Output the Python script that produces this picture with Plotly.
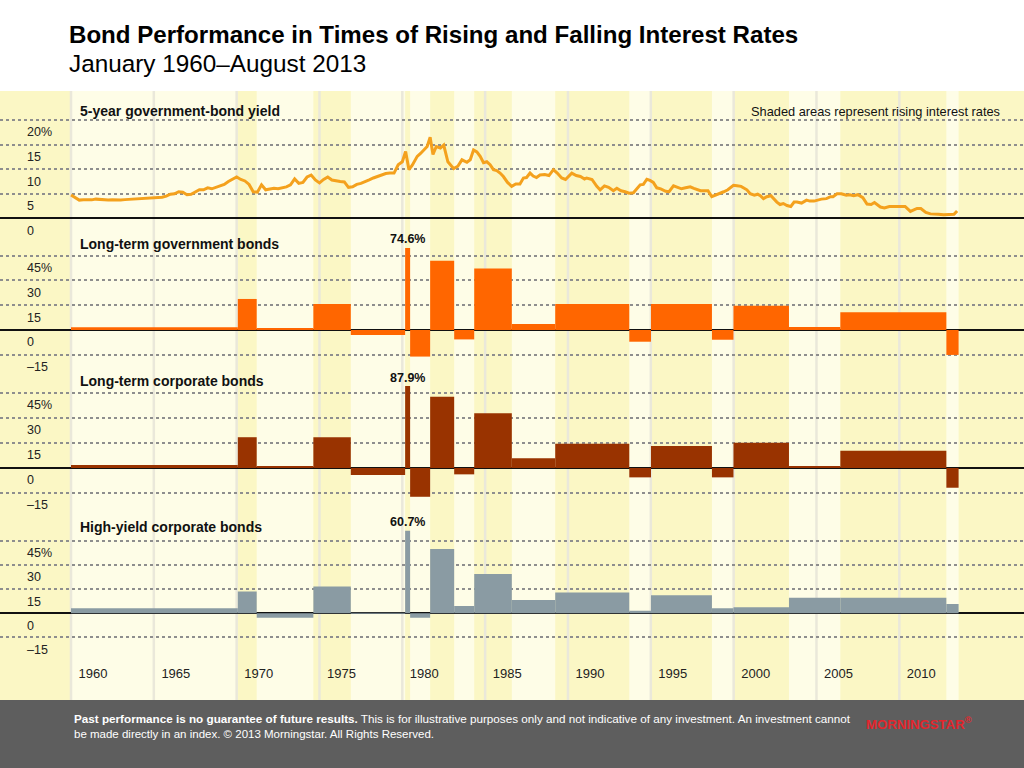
import plotly.graph_objects as go

# ---------------- data ----------------
# period boundaries (decimal years) of rising / falling rate cycles
period_edges = [1960.0, 1970.07, 1971.21, 1974.63, 1976.89, 1980.17, 1980.47, 1981.68,
                1983.13, 1984.34, 1986.61, 1989.23, 1993.70, 1995.01, 1998.69, 1999.99,
                2003.34, 2006.44, 2012.84, 2013.58]
rising_rates = [True, False, True, False, True, False, True, False, True, False,
                True, False, True, False, True, False, True, False, True]

gov_returns = [1.6, 18.8, 1.0, 15.7, -3.0, 74.6, -16.1, 42.0, -5.7, 37.2,
               3.6, 15.7, -7.1, 15.7, -5.9, 14.7, 1.8, 10.7, -15.1]
corp_returns = [1.8, 18.4, 1.0, 18.4, -4.2, 87.9, -17.2, 42.6, -3.8, 32.7,
                5.8, 14.5, -5.6, 13.2, -5.6, 15.1, 1.2, 10.3, -11.8]
hy_returns = [3.1, 13.5, -2.7, 16.6, 0.3, 60.7, -2.7, 40.0, 4.6, 24.4,
              8.3, 12.9, 1.6, 11.2, 3.1, 3.7, 9.7, 9.6, 5.8]

yield_dates = [
    1960.0, 1960.25, 1960.5, 1960.75, 1961.0, 1961.25, 1961.5, 1961.75,
    1962.0, 1962.25, 1962.5, 1962.75, 1963.0, 1963.25, 1963.5, 1963.75,
    1964.0, 1964.25, 1964.5, 1964.75, 1965.0, 1965.25, 1965.5, 1965.75,
    1966.0, 1966.25, 1966.5, 1966.75, 1967.0, 1967.25, 1967.5, 1967.75,
    1968.0, 1968.25, 1968.5, 1968.75, 1969.0, 1969.25, 1969.5, 1969.75,
    1970.0, 1970.25, 1970.5, 1970.75, 1971.0, 1971.25, 1971.5, 1971.75,
    1972.0, 1972.25, 1972.5, 1972.75, 1973.0, 1973.25, 1973.5, 1973.75,
    1974.0, 1974.25, 1974.5, 1974.75, 1975.0, 1975.25, 1975.5, 1975.75,
    1976.0, 1976.25, 1976.5, 1976.75, 1977.0, 1977.25, 1977.5, 1977.75,
    1978.0, 1978.25, 1978.5, 1978.75, 1979.0, 1979.25, 1979.5, 1979.75,
    1980.0, 1980.2, 1980.4, 1980.6, 1980.9, 1981.1, 1981.3, 1981.5, 1981.68, 1981.85,
    1982.05, 1982.3, 1982.5, 1982.75, 1983.1, 1983.35, 1983.6, 1983.9,
    1984.1, 1984.3, 1984.5, 1984.7, 1984.9, 1985.1, 1985.3, 1985.5, 1985.7, 1985.9,
    1986.1, 1986.35, 1986.6, 1986.85, 1987.1, 1987.31, 1987.5, 1987.71, 1987.9,
    1988.1, 1988.31, 1988.6, 1988.85, 1989.12, 1989.35, 1989.62, 1989.85,
    1990.23, 1990.5, 1990.75, 1991.0, 1991.13, 1991.45, 1991.74, 1991.94,
    1992.2, 1992.45, 1992.74, 1992.95, 1993.2, 1993.45, 1993.69, 1993.95,
    1994.15, 1994.36, 1994.55, 1994.76, 1994.95, 1995.15, 1995.36, 1995.6, 1995.9,
    1996.1, 1996.37, 1996.6, 1996.85, 1997.1, 1997.38, 1997.6, 1997.85,
    1998.0, 1998.2, 1998.45, 1998.68, 1998.85, 1999.19, 1999.4, 1999.65, 1999.99,
    2000.2, 2000.45, 2000.8, 2001.0, 2001.25, 2001.45, 2001.61, 2001.8,
    2002.0, 2002.25, 2002.61, 2002.8, 2003.0, 2003.22, 2003.45, 2003.65, 2003.82,
    2004.1, 2004.4, 2004.6, 2004.85, 2005.03, 2005.3, 2005.6, 2005.85,
    2006.0, 2006.24, 2006.5, 2006.8, 2007.0, 2007.25, 2007.5, 2007.8,
    2008.05, 2008.3, 2008.5, 2008.86, 2009.1, 2009.4, 2009.66, 2009.9,
    2010.1, 2010.35, 2010.67, 2010.9, 2011.07, 2011.3, 2011.6, 2011.88,
    2012.1, 2012.35, 2012.68, 2012.9, 2013.1, 2013.3, 2013.49]
yield_values = [
    4.75, 4.2, 3.7, 3.75, 3.7, 3.75, 3.9, 3.8,
    3.85, 3.7, 3.75, 3.65, 3.7, 3.8, 3.85, 3.95,
    4.0, 4.05, 4.0, 4.05, 4.1, 4.15, 4.3, 4.5,
    4.9, 5.0, 5.4, 5.3, 4.8, 4.9, 5.4, 5.8,
    5.8, 6.2, 6.0, 6.3, 6.6, 6.9, 7.5, 7.9,
    8.4, 7.9, 7.6, 6.9, 5.4, 5.3, 6.8, 5.8,
    5.9, 6.1, 6.0, 6.2, 6.4, 6.8, 8.0, 7.1,
    7.3, 8.4, 8.8, 7.8, 7.2, 7.9, 8.4, 7.8,
    7.6, 7.5, 7.4, 6.3, 6.4, 6.9, 7.1, 7.4,
    7.8, 8.2, 8.5, 8.8, 9.1, 9.2, 9.2, 10.9,
    11.5, 13.6, 9.9, 10.8, 12.6, 13.2, 14.0, 14.6, 16.5, 13.0,
    14.6, 14.3, 14.9, 11.5, 10.1, 10.6, 11.9, 11.4,
    11.9, 13.9, 13.5, 12.6, 11.3, 11.5, 10.9, 9.9, 9.7, 9.2,
    8.5, 7.3, 6.5, 7.0, 7.0, 8.2, 8.3, 9.2, 8.6,
    8.3, 8.8, 8.9, 8.7, 9.9, 9.2, 8.2, 7.9,
    9.2, 8.7, 8.5, 8.0, 8.2, 7.9, 6.5, 5.8,
    6.6, 6.3, 5.6, 6.1, 5.6, 5.4, 5.1, 5.2,
    5.9, 6.8, 6.9, 7.95, 7.7, 7.3, 6.2, 6.0, 5.5,
    5.4, 6.6, 6.3, 6.0, 6.2, 6.4, 6.1, 5.8,
    5.6, 5.6, 5.6, 4.4, 4.6, 5.0, 5.4, 5.8, 6.7,
    6.6, 6.5, 5.8, 5.0, 4.7, 4.9, 4.6, 4.0,
    4.4, 4.6, 3.3, 2.8, 3.0, 2.6, 2.4, 3.3, 3.3,
    3.1, 3.7, 3.5, 3.5, 3.7, 3.9, 4.0, 4.4,
    4.4, 5.0, 5.0, 4.7, 4.8, 4.6, 4.8, 4.2,
    2.9, 2.8, 3.2, 2.3, 2.1, 2.4, 2.4, 2.4,
    2.4, 2.4, 1.4, 1.8, 2.0, 2.0, 1.2, 0.9,
    0.9, 0.8, 0.7, 0.7, 0.8, 0.8, 1.5]

year_ticks = [1960, 1965, 1970, 1975, 1980, 1985, 1990, 1995, 2000, 2005, 2010]
yield_ticks = [0, 5, 10, 15, 20]
yield_ticktext = ["0", "5", "10", "15", "20%"]
ret_ticks = [-15, 0, 15, 30, 45]
ret_ticktext = ["\u201315", "0", "15", "30", "45%"]

# ---------------- styling / layout helpers ----------------
W, H = 1024, 768
FONT = "Liberation Sans, Arial, Helvetica, sans-serif"
YELLOW = "#FBF7C5"
CREAM = "#FEFDE7"
VGRID = "#EAE8DA"


def py(px):
    return 1 - px / H


def yrange(top_px, bottom_px, zero_px, px_per_unit):
    return [-(bottom_px - zero_px) / px_per_unit, (zero_px - top_px) / px_per_unit]


x_range = [1960 - 71 / 16.566, 1960 + (W - 71) / 16.566]

# panels: (top_px, bottom_px, zero_px, px per unit)
p_yield = (95, 238, 218.3, 4.915)
p_gov = (248, 380, 330.0, 1.651)
p_corp = (386, 522, 468.0, 1.673)
p_hy = (530.7, 664, 613.3, 1.607)

fig = go.Figure()

fig.add_trace(go.Scatter(x=yield_dates, y=yield_values, mode="lines",
                         line=dict(color="#F4A11D", width=3),
                         xaxis="x", yaxis="y", hoverinfo="skip"))

centers = [(a + b) / 2 for a, b in zip(period_edges[:-1], period_edges[1:])]
widths = [b - a for a, b in zip(period_edges[:-1], period_edges[1:])]

for vals, color, yax in [(gov_returns, "#FF6600", "y2"),
                         (corp_returns, "#993300", "y3"),
                         (hy_returns, "#8A9BA3", "y4")]:
    fig.add_trace(go.Bar(x=centers, y=vals, width=widths,
                         marker=dict(color=color, line=dict(width=0)),
                         xaxis="x", yaxis=yax, hoverinfo="skip"))

shapes = []
# yellow background
shapes.append(dict(type="rect", xref="paper", yref="paper", x0=0, x1=1,
                   y0=py(700), y1=py(91), fillcolor=YELLOW, line=dict(width=0),
                   layer="below"))
# rising-rate (shaded) periods
for a, b, r in zip(period_edges[:-1], period_edges[1:], rising_rates):
    if r:
        shapes.append(dict(type="rect", xref="x", yref="paper", x0=a, x1=b,
                           y0=py(700), y1=py(91), fillcolor=CREAM,
                           line=dict(width=0), layer="below"))
# vertical year lines
for yr in year_ticks:
    shapes.append(dict(type="line", xref="x", yref="paper", x0=yr, x1=yr,
                       y0=py(700), y1=py(91), line=dict(color=VGRID, width=2.5),
                       layer="below"))
# footer
shapes.append(dict(type="rect", xref="paper", yref="paper", x0=0, x1=1,
                   y0=0, y1=py(700), fillcolor="#5E5E5E", line=dict(width=0),
                   layer="below"))


def yaxis_cfg(panel, ticks, ticktext):
    top, bottom, zero, ppu = panel
    return dict(domain=[py(bottom), py(top)], range=yrange(top, bottom, zero, ppu),
                anchor="x", tickmode="array", tickvals=ticks, ticktext=ticktext,
                showgrid=True, gridcolor="#8E8E8E", griddash="dot", gridwidth=1.5,
                zeroline=True, zerolinecolor="#111111", zerolinewidth=1.6,
                showline=False, ticks="", ticklabelposition="inside",
                ticklabelstandoff=24, ticklabelshift=12,
                tickfont=dict(family=FONT, size=12.5, color="#222222"),
                fixedrange=True)


annotations = []


def text(x, y, s, size=12, bold=False, color="#111111", xanchor="left",
         family=FONT, xref="paper"):
    annotations.append(dict(x=x if xref == "x" else x / W, y=py(y), xref=xref,
                            yref="paper", text=f"<b>{s}</b>" if bold else s,
                            showarrow=False, xanchor=xanchor, yanchor="middle",
                            font=dict(family=family, size=size, color=color)))


text(67, 34, "Bond Performance in Times of Rising and Falling Interest Rates", 24.1, True, "#000000")
text(67, 63, "January 1960\u2013August 2013", 24.3, False, "#000000")
text(78, 111, "5-year government-bond yield", 14, True)
text(1002, 111, "Shaded areas represent rising interest rates", 12.8, False, xanchor="right")
text(78, 244, "Long-term government bonds", 14, True)
text(78, 381, "Long-term corporate bonds", 14, True)
text(78, 527, "High-yield corporate bonds", 14, True)
text(centers[5], 239, f"{gov_returns[5]}%", 12.5, True, xanchor="center", xref="x")
text(centers[5], 378, f"{corp_returns[5]}%", 12.5, True, xanchor="center", xref="x")
text(centers[5], 522, f"{hy_returns[5]}%", 12.5, True, xanchor="center", xref="x")
text(72, 718, "<b>Past performance is no guarantee of future results.</b> This is for illustrative "
     "purposes only and not indicative of any investment. An investment cannot",
     11.7, False, "#FFFFFF")
text(72, 734, "be made directly in an index. \u00a9 2013 Morningstar. All Rights Reserved.",
     11.5, False, "#FFFFFF")
text(864, 723, "MORNINGSTAR<sup>\u00ae</sup>", 13.2, True, "#E3262D")

fig.update_layout(
    width=W, height=H, margin=dict(l=0, r=0, t=0, b=0),
    paper_bgcolor="#FFFFFF", plot_bgcolor="rgba(0,0,0,0)",
    showlegend=False, barmode="overlay", hovermode=False,
    shapes=shapes, annotations=annotations,
    xaxis=dict(domain=[0, 1], range=x_range, anchor="y4", showgrid=False,
               zeroline=False, showline=False, ticks="", tickmode="array",
               tickvals=year_ticks, ticktext=[str(y) for y in year_ticks],
               ticklabelshift=22, ticklabelstandoff=0,
               tickfont=dict(family=FONT, size=13, color="#222222"),
               fixedrange=True),
    yaxis=yaxis_cfg(p_yield, yield_ticks, yield_ticktext),
    yaxis2=yaxis_cfg(p_gov, ret_ticks, ret_ticktext),
    yaxis3=yaxis_cfg(p_corp, ret_ticks, ret_ticktext),
    yaxis4=yaxis_cfg(p_hy, ret_ticks, ret_ticktext),
)

fig.write_html("out.html", config={"displayModeBar": False},
               post_script="document.body.style.margin='0px';")
